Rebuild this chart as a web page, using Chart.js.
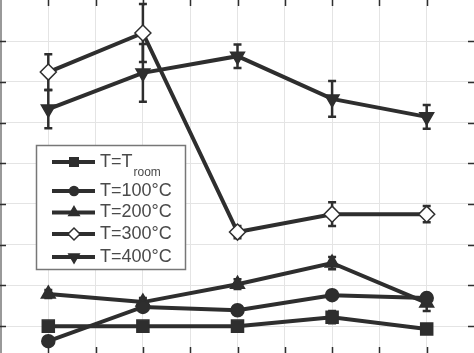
<!DOCTYPE html>
<html>
<head>
<meta charset="utf-8">
<script src="https://cdn.jsdelivr.net/npm/chart.js@4.4.1/dist/chart.umd.min.js"></script>
<style>
  html, body { margin: 0; padding: 0; background: #fff; }
  canvas { display: block; }
</style>
</head>
<body>
<canvas id="chart" width="474" height="353"></canvas>
<script>
// ----------------------------------------------------------------
//  Data (arbitrary y units)
// ----------------------------------------------------------------
const xPos    = [1, 2, 3, 4, 5];
const xTicks  = [1, 1.5, 2, 2.5, 3, 3.5, 4, 4.5, 5];
const yTicks  = [1, 2, 3, 4, 5, 6, 7, 8];

const tRoom   = [1.0, 1.0, 1.0, 1.22, 0.93];
const errRoom = [0.05, 0.05, 0.05, 0.15, 0.05];
const t100    = [0.63, 1.47, 1.39, 1.76, 1.69];
const err100  = [0.05, 0.05, 0.05, 0.08, 0.1];
const t200    = [1.79, 1.59, 2.03, 2.55, 1.57];
const err200  = [0.1, 0.1, 0.12, 0.15, 0.2];
const t300    = [7.24, 8.2, 3.31, 3.75, 3.75];
const err300  = [0.44, 0.71, 0.15, 0.29, 0.2];
const t400    = [6.33, 7.22, 7.63, 6.58, 6.14];
const err400  = [0.47, 0.71, 0.29, 0.44, 0.29];

const legendMain = ['T=T', 'T=100°C', 'T=200°C', 'T=300°C', 'T=400°C'];
const legendSub  = ['room', '', '', '', ''];

const ink = '#2e2e2e';

// ----------------------------------------------------------------
//  Marker drawing for the legend
// ----------------------------------------------------------------
function drawMarker(ctx, style, x, y, r, fill) {
  ctx.beginPath();
  if (style === 'rect') {
    const s = r * Math.SQRT1_2;
    ctx.rect(x - s, y - s, 2 * s, 2 * s);
  } else if (style === 'circle') {
    ctx.arc(x, y, r, 0, Math.PI * 2);
  } else if (style === 'rectRot') {
    ctx.moveTo(x - r, y); ctx.lineTo(x, y - r); ctx.lineTo(x + r, y); ctx.lineTo(x, y + r);
    ctx.closePath();
  } else if (style === 'triangle' || style === 'triangleDown') {
    const d = style === 'triangle' ? 1 : -1;
    ctx.moveTo(x, y - d * r);
    ctx.lineTo(x + r * 0.866, y + d * r * 0.5);
    ctx.lineTo(x - r * 0.866, y + d * r * 0.5);
    ctx.closePath();
  }
  ctx.fillStyle = fill;
  ctx.fill();
  ctx.lineWidth = 1.5;
  ctx.strokeStyle = ink;
  ctx.stroke();
}

// ----------------------------------------------------------------
//  Error bars (behind the markers)
// ----------------------------------------------------------------
const errorBars = {
  id: 'errorBars',
  beforeDatasetsDraw(chart) {
    const { ctx, scales: { x, y } } = chart;
    ctx.save();
    ctx.strokeStyle = ink;
    ctx.lineWidth = 2.5;
    chart.data.datasets.forEach(ds => {
      ds.data.forEach((p, i) => {
        const e = ds.err[i];
        if (!e) return;
        const px  = x.getPixelForValue(p.x);
        const top = y.getPixelForValue(p.y + e);
        const bot = y.getPixelForValue(p.y - e);
        ctx.beginPath();
        ctx.moveTo(px, top); ctx.lineTo(px, bot);
        ctx.moveTo(px - 4, top); ctx.lineTo(px + 4, top);
        ctx.moveTo(px - 4, bot); ctx.lineTo(px + 4, bot);
        ctx.stroke();
      });
    });
    ctx.restore();
  }
};

// ----------------------------------------------------------------
//  Inward tick marks on all four sides
// ----------------------------------------------------------------
const frameTicks = {
  id: 'frameTicks',
  afterDatasetsDraw(chart) {
    const { ctx, chartArea: a, scales: { x, y } } = chart;
    const len = 6;
    ctx.save();
    ctx.strokeStyle = ink;
    ctx.lineWidth = 1.5;
    ctx.beginPath();
    xTicks.forEach(v => {
      const px = Math.round(x.getPixelForValue(v)) + 0.5;
      ctx.moveTo(px, a.top); ctx.lineTo(px, a.top + len);
      ctx.moveTo(px, a.bottom); ctx.lineTo(px, a.bottom - len);
    });
    yTicks.forEach(v => {
      const py = Math.round(y.getPixelForValue(v)) + 0.5;
      ctx.moveTo(0, py); ctx.lineTo(len, py);
      ctx.moveTo(a.right, py); ctx.lineTo(a.right - len, py);
    });
    ctx.stroke();
    ctx.restore();
  }
};

// ----------------------------------------------------------------
//  Legend box with subscript
// ----------------------------------------------------------------
const legendBox = {
  id: 'legendBox',
  afterDraw(chart) {
    const ctx = chart.ctx;
    const rows = [162, 191, 212.5, 234, 257];
    ctx.save();
    ctx.fillStyle = '#fff';
    ctx.fillRect(36, 145, 150, 125);
    ctx.strokeStyle = '#777';
    ctx.lineWidth = 1.5;
    ctx.strokeRect(36.5, 145.5, 149, 124);

    chart.data.datasets.forEach((ds, i) => {
      const yy = rows[i];
      ctx.strokeStyle = ink;
      ctx.lineWidth = 4;
      ctx.beginPath();
      ctx.moveTo(52, yy); ctx.lineTo(95, yy);
      ctx.stroke();
      drawMarker(ctx, ds.legendStyle, 74, yy, ds.legendRadius, ds.pointBackgroundColor);

      ctx.fillStyle = '#4a4a4a';
      ctx.textBaseline = 'middle';
      ctx.font = '18px "Liberation Sans", Arial, sans-serif';
      ctx.fillText(legendMain[i], 100, yy);
      if (legendSub[i]) {
        const w = ctx.measureText(legendMain[i]).width;
        ctx.font = '12px "Liberation Sans", Arial, sans-serif';
        ctx.textBaseline = 'alphabetic';
        ctx.fillText(legendSub[i], 100 + w + 1, yy + 14);
      }
    });
    ctx.restore();
  }
};

// ----------------------------------------------------------------
//  Chart
// ----------------------------------------------------------------
const toPts = vals => vals.map((v, i) => ({ x: xPos[i], y: v }));

const mkSet = (label, vals, err, style, radius, fill, legendStyle, legendRadius, rotation) => ({
  label,
  data: toPts(vals),
  err,
  borderColor: ink,
  borderWidth: 4,
  pointStyle: style,
  pointRotation: rotation || 0,
  pointRadius: radius,
  pointBackgroundColor: fill,
  pointBorderColor: ink,
  pointBorderWidth: 1.5,
  legendStyle,
  legendRadius,
  clip: false,
  tension: 0
});

new Chart(document.getElementById('chart'), {
  type: 'line',
  data: {
    datasets: [
      mkSet('T=Troom', tRoom, errRoom, 'rect', 8.5, ink, 'rect', 6),
      mkSet('T=100°C', t100, err100, 'circle', 6.5, ink, 'circle', 4.5),
      mkSet('T=200°C', t200, err200, 'triangle', 8, ink, 'triangle', 6),
      mkSet('T=300°C', t300, err300, 'rectRot', 8, '#fff', 'rectRot', 6),
      mkSet('T=400°C', t400, err400, 'triangle', 8, ink, 'triangleDown', 6, 180)
    ]
  },
  options: {
    responsive: false,
    animation: false,
    devicePixelRatio: 1,
    layout: { autoPadding: false, padding: { left: 1, right: 0, top: 0, bottom: 0 } },
    plugins: { legend: { display: false }, tooltip: { enabled: false } },
    scales: {
      x: {
        type: 'linear',
        min: 0.5,
        max: 5.5,
        afterBuildTicks: s => { s.ticks = xTicks.map(v => ({ value: v })); },
        ticks: { display: false },
        grid: { color: '#e4e4e4', lineWidth: 1, drawTicks: false },
        border: { display: false }
      },
      y: {
        type: 'linear',
        min: 0.34,
        max: 9.01,
        afterBuildTicks: s => { s.ticks = yTicks.map(v => ({ value: v })); },
        ticks: { display: false },
        grid: { color: '#e4e4e4', lineWidth: 1, drawTicks: false },
        border: { display: true, color: '#999', width: 2 }
      }
    }
  },
  plugins: [errorBars, frameTicks, legendBox]
});
</script>
</body>
</html>
